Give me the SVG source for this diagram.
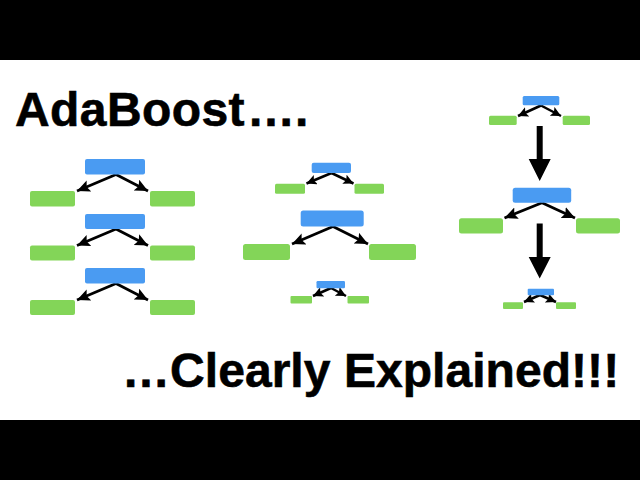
<svg xmlns="http://www.w3.org/2000/svg" width="640" height="480" viewBox="0 0 640 480">
<style>
.b{fill:#4a9bf2}
.g{fill:#83d558}
.e{fill:none;stroke:#000;stroke-width:2.8;marker-end:url(#h)}
.es{fill:none;stroke:#000;stroke-width:2.5;marker-end:url(#hs)}
.t{font-family:"Liberation Sans",Arial,sans-serif;font-weight:700;fill:#000;font-size:48px;stroke:#000;stroke-width:.6}
</style>
<defs>
<marker id="h" markerUnits="userSpaceOnUse" markerWidth="16" markerHeight="14" refX="13" refY="6" orient="auto"><path d="M0 0L13 6L0 12L2.5 6Z"/></marker>
<marker id="hs" markerUnits="userSpaceOnUse" markerWidth="12" markerHeight="12" refX="10" refY="5" orient="auto"><path d="M0 0L10 5L0 10L2 5Z"/></marker>
</defs>
<rect width="640" height="480" fill="#fff"/>
<rect id="bar-top" width="640" height="60" fill="#000"/>
<rect id="bar-bottom" y="420" width="640" height="60" fill="#000"/>
<text id="title" class="t" x="15" y="125.5" letter-spacing="0.4">AdaBoost<tspan x="247" letter-spacing="0">….</tspan></text>
<text id="subtitle" class="t" x="122" y="387" letter-spacing="0.05">…Clearly Explained!!!</text>
<g id="connectors">
<path class="e" d="M116 174.5L77 191"/><path class="e" d="M116 174.5L148 191"/>
<path class="e" d="M116 229L77 245.5"/><path class="e" d="M116 229L148 245.5"/>
<path class="e" d="M116 283.5L77 300"/><path class="e" d="M116 283.5L148 300"/>
<path class="es" d="M331.5 173L306.5 183.5"/><path class="es" d="M331.5 173L353.5 183.5"/>
<path class="e" d="M333 226.5L292 244"/><path class="e" d="M333 226.5L368 244"/>
<path class="es" d="M331 288L313 296"/><path class="es" d="M331 288L346 296"/>
<path class="es" d="M541 105.5L518 116"/><path class="es" d="M541 105.5L561 116"/>
<path class="e" d="M542 202.7L504.5 218"/><path class="e" d="M542 202.7L575 218"/>
<path class="es" d="M540 295L524 302"/><path class="es" d="M540 295L556 302"/>
<path d="M536.7 126H542.7V159L550.7 159L539.7 181L528.7 159L536.7 159Z"/>
<path d="M536.7 223.5H542.7V257L550.7 257L539.7 278.5L528.7 257L536.7 257Z"/>
</g>
<g id="n1"><rect class="b" x="85" y="159" width="60" height="15.5" rx="2"/></g>
<g id="n2"><rect class="g" x="30" y="191" width="45" height="15.5" rx="2"/></g>
<g id="n3"><rect class="g" x="150" y="191" width="45" height="15.5" rx="2"/></g>
<g id="n4"><rect class="b" x="85" y="214" width="60" height="15" rx="2"/></g>
<g id="n5"><rect class="g" x="30" y="245.5" width="45" height="15" rx="2"/></g>
<g id="n6"><rect class="g" x="150" y="245.5" width="45" height="15" rx="2"/></g>
<g id="n7"><rect class="b" x="85" y="268" width="60" height="15.5" rx="2"/></g>
<g id="n8"><rect class="g" x="30" y="300" width="45" height="15" rx="2"/></g>
<g id="n9"><rect class="g" x="150" y="300" width="45" height="15" rx="2"/></g>
<g id="n10"><rect class="b" x="311.7" y="162.7" width="39.3" height="10.3" rx="2"/></g>
<g id="n11"><rect class="g" x="275" y="183.7" width="30" height="10" rx="1.5"/></g>
<g id="n12"><rect class="g" x="354.5" y="183.7" width="29.5" height="10" rx="1.5"/></g>
<g id="n13"><rect class="b" x="300.7" y="210.5" width="63" height="16" rx="2.5"/></g>
<g id="n14"><rect class="g" x="243" y="244" width="47" height="16" rx="2.5"/></g>
<g id="n15"><rect class="g" x="369" y="244" width="47" height="16" rx="2.5"/></g>
<g id="n16"><rect class="b" x="316.5" y="281" width="28.5" height="7.3" rx="1.2"/></g>
<g id="n17"><rect class="g" x="290.5" y="296" width="21.5" height="7.5" rx="1"/></g>
<g id="n18"><rect class="g" x="347.5" y="296" width="21.5" height="7.5" rx="1"/></g>
<g id="n19"><rect class="b" x="522.7" y="96" width="36.6" height="9.3" rx="1.5"/></g>
<g id="n20"><rect class="g" x="489" y="115.7" width="27.7" height="9.3" rx="1.5"/></g>
<g id="n21"><rect class="g" x="562.7" y="115.7" width="27.3" height="9.3" rx="1.5"/></g>
<g id="n22"><rect class="b" x="512.7" y="187.7" width="58.5" height="15" rx="2.5"/></g>
<g id="n23"><rect class="g" x="459" y="218.3" width="44" height="15.2" rx="2.5"/></g>
<g id="n24"><rect class="g" x="576" y="218.3" width="44" height="15.2" rx="2.5"/></g>
<g id="n25"><rect class="b" x="527.7" y="288.7" width="26.3" height="6.5" rx="1"/></g>
<g id="n26"><rect class="g" x="503" y="302.3" width="20" height="6.7" rx="1"/></g>
<g id="n27"><rect class="g" x="556" y="302.3" width="20" height="6.7" rx="1"/></g>
</svg>
